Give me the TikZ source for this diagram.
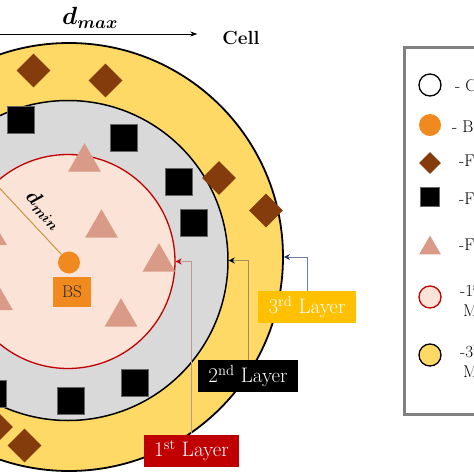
\documentclass[tikz,border=0pt]{standalone}
\usepackage{bm}
\usetikzlibrary{shapes.geometric,arrows.meta}
\definecolor{yel}{HTML}{FFD966}
\definecolor{gry}{HTML}{D9D9D9}
\definecolor{pnk}{HTML}{FBE3D8}
\definecolor{redc}{HTML}{C00000}
\definecolor{brn}{HTML}{843C0C}
\definecolor{tri}{HTML}{D99A88}
\definecolor{org}{HTML}{F08A1E}
\definecolor{gold}{HTML}{FFC000}
\definecolor{navy}{HTML}{203864}
\definecolor{dline}{HTML}{C8963C}
\tikzset{
  dia/.style={diamond,fill=brn,inner sep=0,minimum width=34pt,minimum height=34pt,aspect=1},
  sq/.style={rectangle,fill=black,draw=black!60,line width=0.8pt,inner sep=0,minimum size=27pt},
  trishape/.style={regular polygon,regular polygon sides=3,fill=tri,inner sep=0,minimum size=38pt},
  layerbox/.style={rectangle,inner sep=0,text=white,font=\fontsize{21}{24}\selectfont,minimum height=32pt},
  legtext/.style={anchor=west,inner sep=0,font=\fontsize{17}{20}\selectfont,align=left},
  legdia/.style={diamond,fill=brn,inner sep=0,minimum width=22pt,minimum height=22pt,aspect=1},
  legsq/.style={rectangle,fill=black,draw=black!60,line width=0.8pt,inner sep=0,minimum size=19pt},
  legtri/.style={regular polygon,regular polygon sides=3,fill=tri,inner sep=0,minimum size=25pt},
  legcirc/.style={circle,inner sep=0,minimum size=22pt,line width=1.3pt},
}
\begin{document}
\begin{tikzpicture}[x=1pt,y=-1pt]
\useasboundingbox (0,0) rectangle (474,474);
\clip (0,0) rectangle (474,474);
% rings
\node[circle,draw=black,line width=1.8pt,fill=yel,inner sep=0,minimum size=428pt] (c3) at (69,257) {};
\node[circle,draw=black,line width=1.5pt,fill=gry,inner sep=0,minimum size=320pt] (c2) at (68,260.5) {};
\node[circle,draw=redc,line width=1.3pt,fill=pnk,inner sep=0,minimum size=214pt] (c1) at (68,261.5) {};
% diamonds
\node[dia] (d1) at (33.5,70.5) {};
\node[dia] (d2) at (105.5,80.5) {};
\node[dia] (d3) at (219,178) {};
\node[dia] (d4) at (266,210.5) {};
\node[dia] (d5) at (24.5,445.5) {};
\node[dia] (d6) at (-4,427) {};
% squares
\node[sq] (s1) at (21,120) {};
\node[sq] (s2) at (123.5,137.5) {};
\node[sq] (s3) at (179,182) {};
\node[sq] (s4) at (193.5,223) {};
\node[sq] (s5) at (135,383) {};
\node[sq] (s6) at (70.5,401) {};
\node[sq] (s7) at (-7,394) {};
% triangles (centroid = bbox centre + 4.7)
\node[trishape] (t1) at (84.5,162.2) {};
\node[trishape] (t2) at (101.5,228.2) {};
\node[trishape] (t3) at (159,262.2) {};
\node[trishape] (t4) at (121,317.2) {};
\node[trishape] (t5) at (-9.5,235.7) {};
\node[trishape] (t6) at (-3.5,300.7) {};
% BS
\node[circle,fill=org,inner sep=0,minimum size=22pt] (bs) at (69,262.5) {};
\node[rectangle,fill=org,inner sep=0,minimum width=38pt,minimum height=30pt,font=\fontsize{17}{20}\selectfont,text=black!85] (bsl) at (72,292) {BS};
% d_min
\draw[dline,line width=1pt] (bs) -- (c1.133);
\node[rotate=-47,inner sep=0,font=\fontsize{22}{26}\selectfont] (dmin) at (44,210) {$\bm{d_{min}}$};
% d_max arrow
\coordinate (a0) at (-2,34);
\node[inner sep=0] (cellend) at (198,34) {};
\draw[-{Stealth[length=7pt,width=5pt]},line width=0.7pt] (a0) -- (cellend);
\node[inner sep=0,font=\fontsize{25}{30}\selectfont] (dmax) at (90,18) {$\bm{d_{max}}$};
\node[inner sep=0,font=\fontsize{19}{22}\selectfont\bfseries] (cell) at (241,38) {Cell};
% layer boxes
\node[layerbox,fill=redc,minimum width=95pt] (l1) at (191.5,450.5) {1\textsuperscript{st} Layer};
\node[layerbox,fill=black,minimum width=100pt] (l2) at (248,376) {2\textsuperscript{nd} Layer};
\node[layerbox,fill=gold,minimum width=98pt] (l3) at (307,307) {3\textsuperscript{rd} Layer};
\draw[draw={rgb,255:red,190;green,150;blue,150},line width=0.9pt,-{Stealth[length=6pt,width=6pt,color=redc]}] (l1.north) |- (c1.east);
\draw[draw={rgb,255:red,160;green,140;blue,90},line width=0.9pt,-{Stealth[length=6pt,width=6pt,color=black]}] (l2.north) |- (c2.east);
\draw[draw={rgb,255:red,110;green,128;blue,160},line width=0.9pt,-{Stealth[length=6pt,width=6pt,color=navy]}] (l3.north) |- (c3.east);
% legend
\node[rectangle,draw=black!50,line width=2.8pt,fill=white,anchor=north west,inner sep=0,minimum width=90pt,minimum height=367pt] (leg) at (403,46) {};
\node[legcirc,draw=black,fill=white] (g1) at (430,85) {};
\node[legtext] (g1t) at (455,86) {- Cell};
\node[legcirc,fill=org] (g2) at (430,125) {};
\node[legtext] (g2t) at (452,127) {- BS};
\node[legdia] (g3) at (430,163) {};
\node[legtext] (g3t) at (459,161) {-FUEs};
\node[legsq] (g4) at (430,197) {};
\node[legtext] (g4t) at (459,199) {-FUEs};
\node[legtri] (g5) at (430,248) {};
\node[legtext] (g5t) at (459,245) {-FUEs};
\node[legcirc,draw=redc,fill=pnk] (g6) at (430,297) {};
\node[legtext] (g6t) at (460,300) {-1\textsuperscript{st}\\\,M};
\node[legcirc,draw=black,fill=yel] (g7) at (430,355) {};
\node[legtext] (g7t) at (460,360) {-3\textsuperscript{rd}\\\,M};
\end{tikzpicture}
\end{document}
